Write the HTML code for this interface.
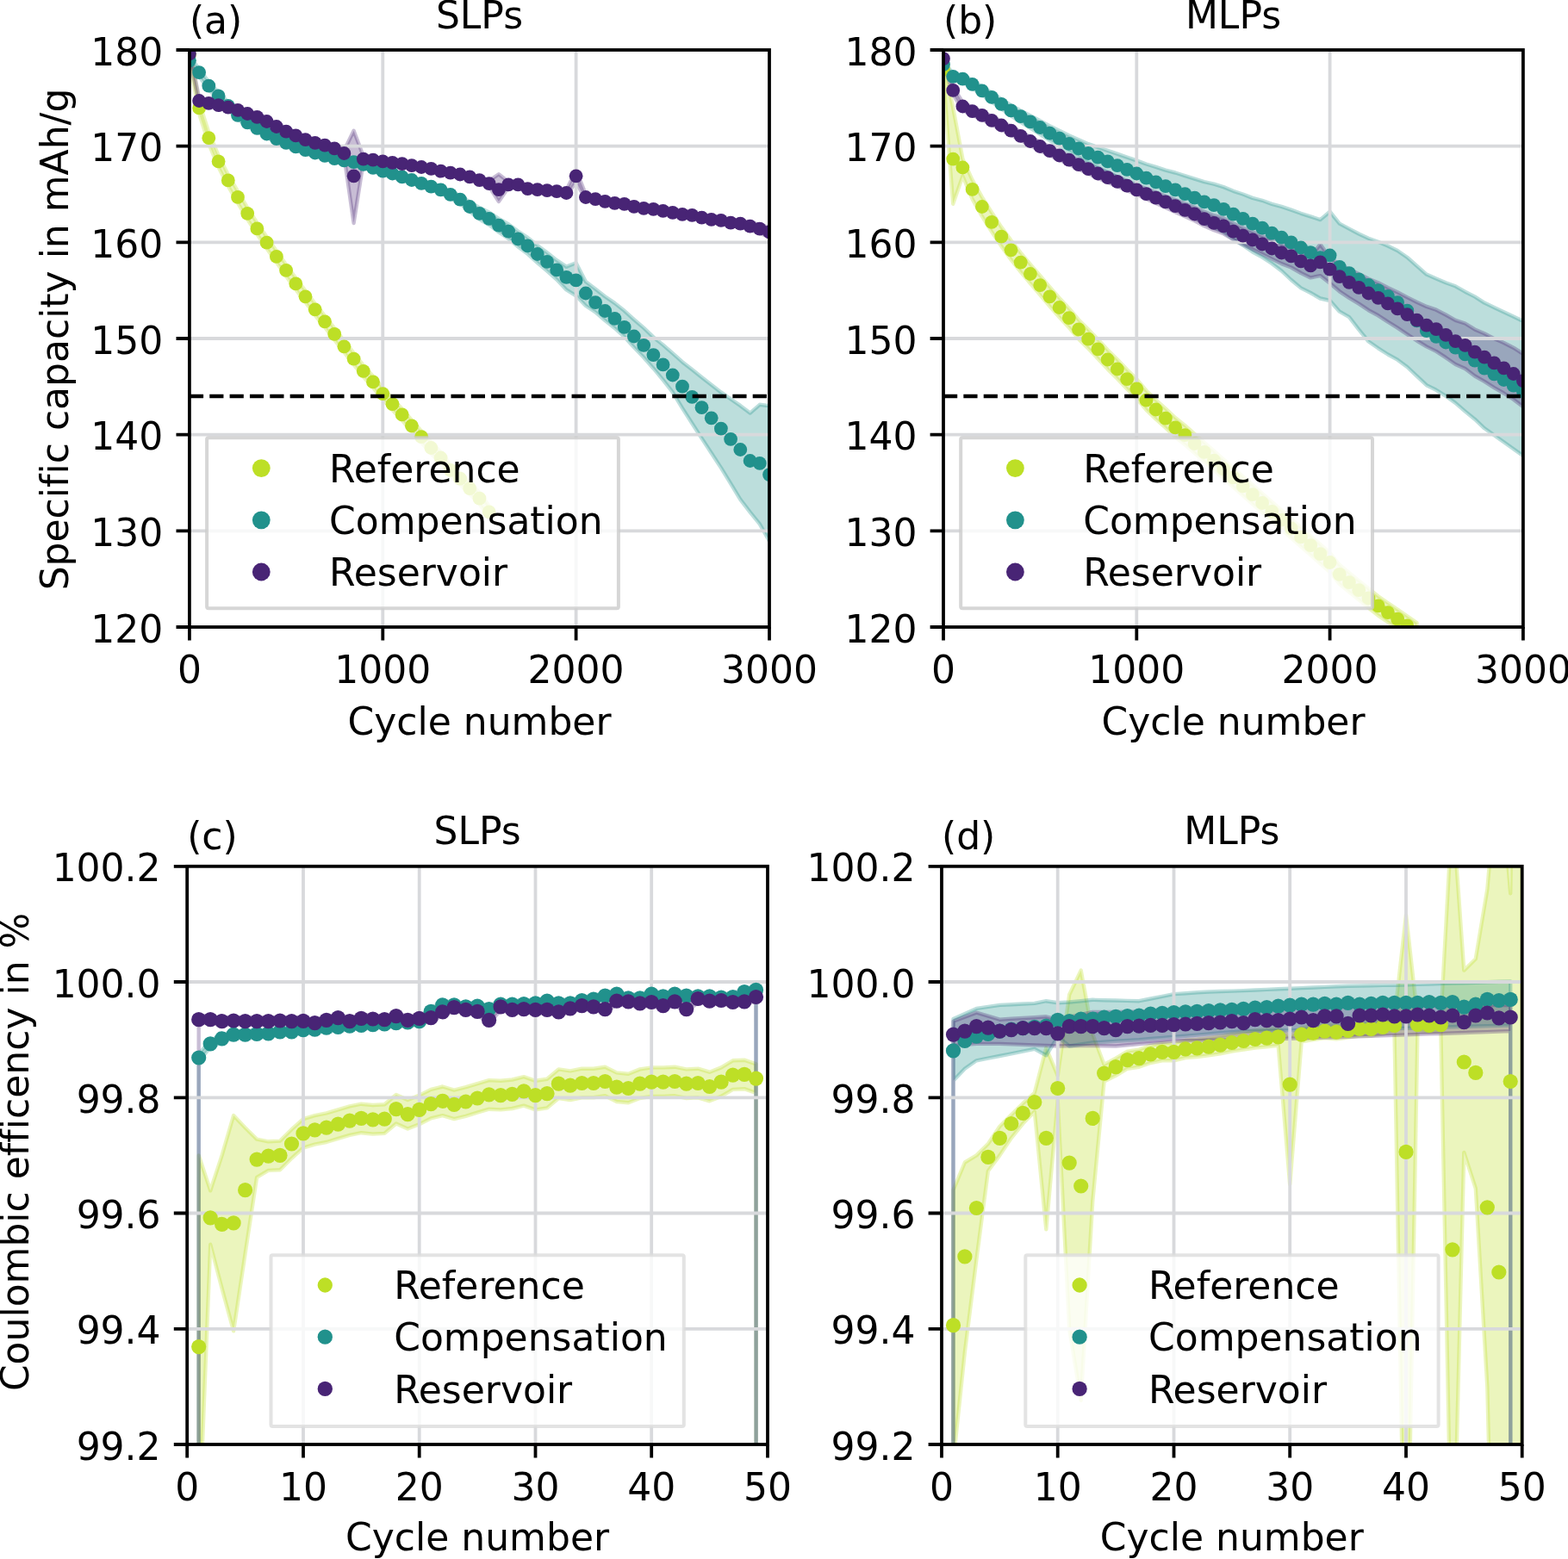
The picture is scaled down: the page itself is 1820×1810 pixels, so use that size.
<!DOCTYPE html><html><head><meta charset="utf-8"><title>Capacity and Coulombic efficiency</title><style>html,body{margin:0;padding:0;background:#fff;}svg{display:block;font-variant-ligatures:none;font-feature-settings:"liga" 0;}</style></head><body>
<svg xmlns="http://www.w3.org/2000/svg" width="1820" height="1810" viewBox="0 0 1820 1810" font-family="DejaVu Sans, Liberation Sans, sans-serif" font-size="44" fill="#000">
<rect width="1820" height="1810" fill="#fff"/>
<defs>
<clipPath id="clipa"><rect x="219.9" y="58.0" width="673.1" height="670.0"/></clipPath>
<clipPath id="clipb"><rect x="1095.0" y="58.0" width="672.9" height="670.0"/></clipPath>
<clipPath id="clipc"><rect x="217.2" y="1005.8" width="673.8" height="671.2"/></clipPath>
<clipPath id="clipd"><rect x="1093.0" y="1005.8" width="673.7" height="671.2"/></clipPath>
</defs>
<g clip-path="url(#clipa)">
<path d="M219.9,56.9 L231.1,118.7 L242.3,153.5 L253.6,180.7 L264.8,202.7 L276.0,222.2 L287.2,241.1 L298.4,258.7 L309.6,275.0 L320.9,291.2 L332.1,307.2 L343.3,322.7 L354.5,337.6 L365.7,352.6 L377.0,366.6 L388.2,381.2 L399.4,395.6 L410.6,409.9 L421.8,424.2 L433.0,436.7 L444.3,450.4 L455.5,462.5 L466.7,474.7 L477.9,487.6 L489.1,500.4 L500.4,513.3 L511.6,524.8 L522.8,539.1 L534.0,549.0 L545.2,560.4 L556.5,571.9 L567.7,587.6 L567.7,601.0 L556.5,585.3 L545.2,573.8 L534.0,562.4 L522.8,552.5 L511.6,538.2 L500.4,526.7 L489.1,513.8 L477.9,501.0 L466.7,488.1 L455.5,475.9 L444.3,463.8 L433.0,450.1 L421.8,437.6 L410.6,423.3 L399.4,409.0 L388.2,394.6 L377.0,380.0 L365.7,366.0 L354.5,351.0 L343.3,336.1 L332.1,320.6 L320.9,304.6 L309.6,288.4 L298.4,272.1 L287.2,254.5 L276.0,235.6 L264.8,216.1 L253.6,194.1 L242.3,166.9 L231.1,132.1 L219.9,70.3 Z" fill="#bddf26" fill-opacity="0.3" stroke="#bddf26" stroke-opacity="0.3" stroke-width="4.4" stroke-linejoin="round"/>
<path d="M219.9,65.8 L231.1,79.7 L242.3,95.3 L253.6,107.0 L264.8,118.5 L276.0,129.7 L287.2,138.1 L298.4,144.7 L309.6,151.4 L320.9,157.0 L332.1,161.7 L343.3,166.5 L354.5,170.3 L365.7,173.6 L377.0,177.0 L388.2,180.4 L399.4,182.6 L410.6,184.4 L421.8,187.2 L433.0,191.3 L444.3,195.1 L455.5,197.9 L466.7,201.9 L477.9,205.5 L489.1,209.3 L500.4,213.2 L511.6,216.9 L522.8,222.0 L534.0,227.2 L545.2,234.4 L556.5,241.1 L567.7,246.5 L578.9,253.8 L590.1,260.2 L601.3,268.5 L612.5,275.9 L623.8,284.9 L635.0,293.3 L646.2,302.2 L657.4,309.6 L668.6,305.3 L679.9,327.1 L691.1,335.5 L702.3,344.2 L713.5,351.9 L724.7,360.8 L735.9,371.0 L747.2,380.7 L758.4,391.4 L769.6,400.4 L780.8,410.2 L792.0,420.2 L803.3,429.1 L814.5,438.0 L825.7,446.7 L836.9,455.4 L848.1,463.2 L859.3,470.9 L870.6,479.6 L881.8,469.8 L893.0,471.3 L893.0,628.2 L881.8,608.4 L870.6,594.6 L859.3,579.8 L848.1,561.4 L836.9,543.1 L825.7,526.0 L814.5,508.9 L803.3,491.5 L792.0,473.9 L780.8,455.3 L769.6,441.1 L758.4,427.7 L747.2,415.0 L735.9,403.2 L724.7,391.0 L713.5,380.9 L702.3,372.1 L691.1,362.3 L679.9,355.0 L668.6,343.3 L657.4,336.4 L646.2,324.5 L635.0,314.5 L623.8,305.0 L612.5,294.8 L601.3,286.4 L590.1,277.0 L578.9,269.4 L567.7,261.0 L556.5,254.5 L545.2,245.6 L534.0,236.1 L522.8,229.9 L511.6,223.6 L500.4,220.0 L489.1,216.2 L477.9,212.5 L466.7,208.9 L455.5,205.1 L444.3,202.3 L433.0,198.6 L421.8,194.6 L410.6,191.8 L399.4,190.2 L388.2,188.0 L377.0,184.7 L365.7,181.4 L354.5,178.2 L343.3,174.4 L332.1,169.8 L320.9,165.1 L309.6,159.6 L298.4,153.1 L287.2,146.5 L276.0,138.2 L264.8,127.1 L253.6,115.7 L242.3,104.0 L231.1,88.6 L219.9,74.8 Z" fill="#21918c" fill-opacity="0.3" stroke="#21918c" stroke-opacity="0.3" stroke-width="4.4" stroke-linejoin="round"/>
<path d="M219.9,58.0 L231.1,113.6 L242.3,116.5 L253.6,118.9 L264.8,121.2 L276.0,124.6 L287.2,128.7 L298.4,132.5 L309.6,137.6 L320.9,143.6 L332.1,149.3 L343.3,154.0 L354.5,158.7 L365.7,162.4 L377.0,165.2 L388.2,169.0 L399.4,174.7 L410.6,151.8 L421.8,181.3 L433.0,182.3 L444.3,184.1 L455.5,185.4 L466.7,186.9 L477.9,188.8 L489.1,190.7 L500.4,192.6 L511.6,195.3 L522.8,197.2 L534.0,199.1 L545.2,201.9 L556.5,205.8 L567.7,209.9 L578.9,202.3 L590.1,211.0 L601.3,211.0 L612.5,215.8 L623.8,216.8 L635.0,217.8 L646.2,218.8 L657.4,220.7 L668.6,197.6 L679.9,225.6 L691.1,227.7 L702.3,230.5 L713.5,232.5 L724.7,233.5 L735.9,236.6 L747.2,238.6 L758.4,239.5 L769.6,241.5 L780.8,243.5 L792.0,245.5 L803.3,246.5 L814.5,249.4 L825.7,251.4 L836.9,252.4 L848.1,255.3 L859.3,255.8 L870.6,258.1 L881.8,260.6 L893.0,263.9 L893.0,275.1 L881.8,270.6 L870.6,267.0 L859.3,263.6 L848.1,262.0 L836.9,259.1 L825.7,258.1 L814.5,256.1 L803.3,253.2 L792.0,252.2 L780.8,250.2 L769.6,248.2 L758.4,246.2 L747.2,245.3 L735.9,243.3 L724.7,240.2 L713.5,239.2 L702.3,237.2 L691.1,234.4 L679.9,232.3 L668.6,211.0 L657.4,227.4 L646.2,225.5 L635.0,224.5 L623.8,223.5 L612.5,222.5 L601.3,217.7 L590.1,217.7 L578.9,234.0 L567.7,216.6 L556.5,212.5 L545.2,208.6 L534.0,205.8 L522.8,203.9 L511.6,202.1 L500.4,199.3 L489.1,197.4 L477.9,195.5 L466.7,193.6 L455.5,192.1 L444.3,190.8 L433.0,189.0 L421.8,188.0 L410.6,259.0 L399.4,181.4 L388.2,175.7 L377.0,171.9 L365.7,169.1 L354.5,165.4 L343.3,160.7 L332.1,156.0 L320.9,150.3 L309.6,144.3 L298.4,139.2 L287.2,135.4 L276.0,131.3 L264.8,127.9 L253.6,125.6 L242.3,123.2 L231.1,120.3 L219.9,66.9 Z" fill="#482475" fill-opacity="0.3" stroke="#482475" stroke-opacity="0.3" stroke-width="4.4" stroke-linejoin="round"/>
<path d="M444.3,58.0V728.0M668.6,58.0V728.0M219.9,616.3H893.0M219.9,504.7H893.0M219.9,393.0H893.0M219.9,281.3H893.0M219.9,169.7H893.0" stroke="#d8d9dc" stroke-width="3.8" fill="none"/>
<g fill="#bddf26"><circle cx="219.9" cy="63.6" r="7.9"/><circle cx="231.1" cy="125.4" r="7.9"/><circle cx="242.3" cy="160.2" r="7.9"/><circle cx="253.6" cy="187.4" r="7.9"/><circle cx="264.8" cy="209.4" r="7.9"/><circle cx="276.0" cy="228.9" r="7.9"/><circle cx="287.2" cy="247.8" r="7.9"/><circle cx="298.4" cy="265.4" r="7.9"/><circle cx="309.6" cy="281.7" r="7.9"/><circle cx="320.9" cy="297.9" r="7.9"/><circle cx="332.1" cy="313.9" r="7.9"/><circle cx="343.3" cy="329.4" r="7.9"/><circle cx="354.5" cy="344.3" r="7.9"/><circle cx="365.7" cy="359.3" r="7.9"/><circle cx="377.0" cy="373.3" r="7.9"/><circle cx="388.2" cy="387.9" r="7.9"/><circle cx="399.4" cy="402.3" r="7.9"/><circle cx="410.6" cy="416.6" r="7.9"/><circle cx="421.8" cy="430.9" r="7.9"/><circle cx="433.0" cy="443.4" r="7.9"/><circle cx="444.3" cy="457.1" r="7.9"/><circle cx="455.5" cy="469.2" r="7.9"/><circle cx="466.7" cy="481.4" r="7.9"/><circle cx="477.9" cy="494.3" r="7.9"/><circle cx="489.1" cy="507.1" r="7.9"/><circle cx="500.4" cy="520.0" r="7.9"/><circle cx="511.6" cy="531.5" r="7.9"/><circle cx="522.8" cy="545.8" r="7.9"/><circle cx="534.0" cy="555.7" r="7.9"/><circle cx="545.2" cy="567.1" r="7.9"/><circle cx="556.5" cy="578.6" r="7.9"/><circle cx="567.7" cy="594.3" r="7.9"/></g>
<g fill="#21918c"><circle cx="219.9" cy="70.3" r="7.9"/><circle cx="231.1" cy="84.1" r="7.9"/><circle cx="242.3" cy="99.7" r="7.9"/><circle cx="253.6" cy="111.4" r="7.9"/><circle cx="264.8" cy="122.8" r="7.9"/><circle cx="276.0" cy="133.9" r="7.9"/><circle cx="287.2" cy="142.3" r="7.9"/><circle cx="298.4" cy="148.9" r="7.9"/><circle cx="309.6" cy="155.5" r="7.9"/><circle cx="320.9" cy="161.1" r="7.9"/><circle cx="332.1" cy="165.8" r="7.9"/><circle cx="343.3" cy="170.4" r="7.9"/><circle cx="354.5" cy="174.2" r="7.9"/><circle cx="365.7" cy="177.5" r="7.9"/><circle cx="377.0" cy="180.8" r="7.9"/><circle cx="388.2" cy="184.2" r="7.9"/><circle cx="399.4" cy="186.4" r="7.9"/><circle cx="410.6" cy="188.1" r="7.9"/><circle cx="421.8" cy="190.9" r="7.9"/><circle cx="433.0" cy="194.9" r="7.9"/><circle cx="444.3" cy="198.7" r="7.9"/><circle cx="455.5" cy="201.5" r="7.9"/><circle cx="466.7" cy="205.4" r="7.9"/><circle cx="477.9" cy="209.0" r="7.9"/><circle cx="489.1" cy="212.8" r="7.9"/><circle cx="500.4" cy="216.6" r="7.9"/><circle cx="511.6" cy="220.3" r="7.9"/><circle cx="522.8" cy="225.9" r="7.9"/><circle cx="534.0" cy="231.6" r="7.9"/><circle cx="545.2" cy="240.0" r="7.9"/><circle cx="556.5" cy="247.8" r="7.9"/><circle cx="567.7" cy="253.8" r="7.9"/><circle cx="578.9" cy="261.6" r="7.9"/><circle cx="590.1" cy="268.6" r="7.9"/><circle cx="601.3" cy="277.4" r="7.9"/><circle cx="612.5" cy="285.4" r="7.9"/><circle cx="623.8" cy="295.0" r="7.9"/><circle cx="635.0" cy="303.9" r="7.9"/><circle cx="646.2" cy="313.4" r="7.9"/><circle cx="657.4" cy="321.9" r="7.9"/><circle cx="668.6" cy="325.4" r="7.9"/><circle cx="679.9" cy="340.5" r="7.9"/><circle cx="691.1" cy="351.1" r="7.9"/><circle cx="702.3" cy="361.0" r="7.9"/><circle cx="713.5" cy="369.8" r="7.9"/><circle cx="724.7" cy="379.8" r="7.9"/><circle cx="735.9" cy="390.5" r="7.9"/><circle cx="747.2" cy="400.8" r="7.9"/><circle cx="758.4" cy="412.1" r="7.9"/><circle cx="769.6" cy="423.4" r="7.9"/><circle cx="780.8" cy="435.5" r="7.9"/><circle cx="792.0" cy="448.7" r="7.9"/><circle cx="803.3" cy="460.9" r="7.9"/><circle cx="814.5" cy="473.2" r="7.9"/><circle cx="825.7" cy="485.3" r="7.9"/><circle cx="836.9" cy="497.6" r="7.9"/><circle cx="848.1" cy="509.8" r="7.9"/><circle cx="859.3" cy="522.0" r="7.9"/><circle cx="870.6" cy="535.0" r="7.9"/><circle cx="881.8" cy="537.9" r="7.9"/><circle cx="893.0" cy="551.1" r="7.9"/></g>
<g fill="#482475"><circle cx="219.9" cy="62.5" r="7.9"/><circle cx="231.1" cy="117.0" r="7.9"/><circle cx="242.3" cy="119.9" r="7.9"/><circle cx="253.6" cy="122.2" r="7.9"/><circle cx="264.8" cy="124.6" r="7.9"/><circle cx="276.0" cy="127.9" r="7.9"/><circle cx="287.2" cy="132.0" r="7.9"/><circle cx="298.4" cy="135.8" r="7.9"/><circle cx="309.6" cy="141.0" r="7.9"/><circle cx="320.9" cy="147.0" r="7.9"/><circle cx="332.1" cy="152.7" r="7.9"/><circle cx="343.3" cy="157.4" r="7.9"/><circle cx="354.5" cy="162.1" r="7.9"/><circle cx="365.7" cy="165.8" r="7.9"/><circle cx="377.0" cy="168.6" r="7.9"/><circle cx="388.2" cy="172.3" r="7.9"/><circle cx="399.4" cy="178.0" r="7.9"/><circle cx="410.6" cy="204.3" r="7.9"/><circle cx="421.8" cy="184.6" r="7.9"/><circle cx="433.0" cy="185.6" r="7.9"/><circle cx="444.3" cy="187.4" r="7.9"/><circle cx="455.5" cy="188.8" r="7.9"/><circle cx="466.7" cy="190.2" r="7.9"/><circle cx="477.9" cy="192.1" r="7.9"/><circle cx="489.1" cy="194.0" r="7.9"/><circle cx="500.4" cy="195.9" r="7.9"/><circle cx="511.6" cy="198.7" r="7.9"/><circle cx="522.8" cy="200.6" r="7.9"/><circle cx="534.0" cy="202.5" r="7.9"/><circle cx="545.2" cy="205.3" r="7.9"/><circle cx="556.5" cy="209.2" r="7.9"/><circle cx="567.7" cy="213.2" r="7.9"/><circle cx="578.9" cy="220.1" r="7.9"/><circle cx="590.1" cy="214.3" r="7.9"/><circle cx="601.3" cy="214.3" r="7.9"/><circle cx="612.5" cy="219.1" r="7.9"/><circle cx="623.8" cy="220.1" r="7.9"/><circle cx="635.0" cy="221.1" r="7.9"/><circle cx="646.2" cy="222.1" r="7.9"/><circle cx="657.4" cy="224.0" r="7.9"/><circle cx="668.6" cy="204.3" r="7.9"/><circle cx="679.9" cy="229.0" r="7.9"/><circle cx="691.1" cy="231.1" r="7.9"/><circle cx="702.3" cy="233.9" r="7.9"/><circle cx="713.5" cy="235.9" r="7.9"/><circle cx="724.7" cy="236.9" r="7.9"/><circle cx="735.9" cy="239.9" r="7.9"/><circle cx="747.2" cy="241.9" r="7.9"/><circle cx="758.4" cy="242.8" r="7.9"/><circle cx="769.6" cy="244.8" r="7.9"/><circle cx="780.8" cy="246.8" r="7.9"/><circle cx="792.0" cy="248.8" r="7.9"/><circle cx="803.3" cy="249.8" r="7.9"/><circle cx="814.5" cy="252.7" r="7.9"/><circle cx="825.7" cy="254.8" r="7.9"/><circle cx="836.9" cy="255.8" r="7.9"/><circle cx="848.1" cy="258.7" r="7.9"/><circle cx="859.3" cy="259.7" r="7.9"/><circle cx="870.6" cy="262.6" r="7.9"/><circle cx="881.8" cy="265.6" r="7.9"/><circle cx="893.0" cy="269.5" r="7.9"/></g>
<path d="M219.9,460.0H893.0" stroke="#000" stroke-width="4.4" stroke-dasharray="16.2,7.15" fill="none"/>
</g>
<rect x="219.9" y="58.0" width="673.1" height="670.0" fill="none" stroke="#000" stroke-width="3.8" stroke-linejoin="miter"/>
<path d="M219.9,728.0v15.4M444.3,728.0v15.4M668.6,728.0v15.4M893.0,728.0v15.4M219.9,728.0h-15.4M219.9,616.3h-15.4M219.9,504.7h-15.4M219.9,393.0h-15.4M219.9,281.3h-15.4M219.9,169.7h-15.4M219.9,58.0h-15.4" stroke="#000" stroke-width="3.8" fill="none"/>
<text x="219.9" y="792.8" text-anchor="middle">0</text>
<text x="444.3" y="792.8" text-anchor="middle">1000</text>
<text x="668.6" y="792.8" text-anchor="middle">2000</text>
<text x="893.0" y="792.8" text-anchor="middle">3000</text>
<text x="189.3" y="745.5" text-anchor="end">120</text>
<text x="189.3" y="633.8" text-anchor="end">130</text>
<text x="189.3" y="522.2" text-anchor="end">140</text>
<text x="189.3" y="410.5" text-anchor="end">150</text>
<text x="189.3" y="298.8" text-anchor="end">160</text>
<text x="189.3" y="187.2" text-anchor="end">170</text>
<text x="189.3" y="75.5" text-anchor="end">180</text>
<g clip-path="url(#clipb)">
<path d="M1095.0,71.4 L1106.2,125.0 L1117.4,184.4 L1128.6,208.8 L1139.9,228.9 L1151.1,246.7 L1162.3,263.6 L1173.5,279.1 L1184.7,293.4 L1195.9,306.8 L1207.2,320.0 L1218.4,333.1 L1229.6,345.9 L1240.8,357.9 L1252.0,371.2 L1263.2,382.4 L1274.4,394.1 L1285.7,406.3 L1296.9,417.3 L1308.1,429.1 L1319.3,440.1 L1330.5,453.5 L1341.7,464.4 L1352.9,474.4 L1364.2,485.1 L1375.4,493.9 L1386.6,503.8 L1397.8,513.7 L1409.0,523.5 L1420.2,533.4 L1431.5,543.2 L1442.7,553.1 L1453.9,562.9 L1465.1,572.8 L1476.3,582.7 L1487.5,592.5 L1498.7,602.4 L1510.0,612.2 L1521.2,622.1 L1532.4,631.9 L1543.6,641.8 L1554.8,655.8 L1566.0,664.9 L1577.2,674.1 L1588.5,683.3 L1599.7,692.3 L1610.9,700.0 L1622.1,707.6 L1633.3,715.2 L1644.5,723.0 L1644.5,745.3 L1633.3,737.5 L1622.1,729.9 L1610.9,722.3 L1599.7,714.6 L1588.5,705.7 L1577.2,696.4 L1566.0,687.2 L1554.8,678.1 L1543.6,664.1 L1532.4,654.3 L1521.2,644.4 L1510.0,634.6 L1498.7,624.7 L1487.5,614.8 L1476.3,605.0 L1465.1,595.1 L1453.9,585.3 L1442.7,575.4 L1431.5,565.6 L1420.2,555.7 L1409.0,545.8 L1397.8,536.0 L1386.6,526.1 L1375.4,516.3 L1364.2,507.5 L1352.9,496.7 L1341.7,486.7 L1330.5,475.9 L1319.3,462.5 L1308.1,451.4 L1296.9,439.7 L1285.7,428.6 L1274.4,416.4 L1263.2,404.7 L1252.0,393.6 L1240.8,380.3 L1229.6,368.2 L1218.4,355.5 L1207.2,342.3 L1195.9,329.1 L1184.7,315.7 L1173.5,301.4 L1162.3,285.9 L1151.1,269.1 L1139.9,251.2 L1128.6,231.1 L1117.4,204.5 L1106.2,236.7 L1095.0,89.3 Z" fill="#bddf26" fill-opacity="0.3" stroke="#bddf26" stroke-opacity="0.3" stroke-width="4.4" stroke-linejoin="round"/>
<path d="M1095.0,71.4 L1106.2,85.1 L1117.4,87.5 L1128.6,93.3 L1139.9,100.5 L1151.1,107.7 L1162.3,115.2 L1173.5,122.2 L1184.7,128.4 L1195.9,134.2 L1207.2,140.2 L1218.4,146.2 L1229.6,151.7 L1240.8,157.3 L1252.0,162.3 L1263.2,167.2 L1274.4,171.0 L1285.7,174.9 L1296.9,178.7 L1308.1,182.6 L1319.3,186.4 L1330.5,190.5 L1341.7,193.9 L1352.9,197.6 L1364.2,200.5 L1375.4,204.1 L1386.6,207.6 L1397.8,211.1 L1409.0,213.7 L1420.2,217.1 L1431.5,221.8 L1442.7,225.5 L1453.9,229.9 L1465.1,232.8 L1476.3,236.9 L1487.5,239.9 L1498.7,243.7 L1510.0,247.8 L1521.2,251.3 L1532.4,255.1 L1543.6,245.7 L1554.8,259.6 L1566.0,265.6 L1577.2,271.5 L1588.5,276.7 L1599.7,280.8 L1610.9,285.5 L1622.1,291.0 L1633.3,298.7 L1644.5,308.7 L1655.8,318.6 L1667.0,323.4 L1678.2,328.2 L1689.4,332.3 L1700.6,338.7 L1711.8,344.4 L1723.0,351.6 L1734.3,356.9 L1745.5,362.3 L1756.7,367.6 L1767.9,372.9 L1767.9,529.2 L1756.7,521.3 L1745.5,513.3 L1734.3,505.3 L1723.0,497.3 L1711.8,486.7 L1700.6,477.6 L1689.4,467.9 L1678.2,459.8 L1667.0,452.8 L1655.8,447.2 L1644.5,436.6 L1633.3,426.0 L1622.1,417.7 L1610.9,411.5 L1599.7,404.3 L1588.5,396.5 L1577.2,382.7 L1566.0,368.1 L1554.8,361.7 L1543.6,349.0 L1532.4,346.5 L1521.2,340.0 L1510.0,334.4 L1498.7,325.0 L1487.5,314.5 L1476.3,305.9 L1465.1,298.7 L1453.9,292.5 L1442.7,284.8 L1431.5,277.6 L1420.2,269.6 L1409.0,263.7 L1397.8,258.6 L1386.6,252.6 L1375.4,246.6 L1364.2,240.5 L1352.9,235.2 L1341.7,229.0 L1330.5,223.1 L1319.3,216.6 L1308.1,211.0 L1296.9,205.5 L1285.7,200.0 L1274.4,194.5 L1263.2,188.9 L1252.0,182.4 L1240.8,176.3 L1229.6,169.6 L1218.4,163.0 L1207.2,155.8 L1195.9,148.7 L1184.7,141.8 L1173.5,134.5 L1162.3,126.3 L1151.1,118.2 L1139.9,110.2 L1128.6,102.2 L1117.4,95.7 L1106.2,92.5 L1095.0,78.1 Z" fill="#21918c" fill-opacity="0.3" stroke="#21918c" stroke-opacity="0.3" stroke-width="4.4" stroke-linejoin="round"/>
<path d="M1095.0,63.6 L1106.2,100.4 L1117.4,119.0 L1128.6,124.5 L1139.9,129.2 L1151.1,135.1 L1162.3,140.7 L1173.5,146.8 L1184.7,153.0 L1195.9,159.0 L1207.2,165.0 L1218.4,170.2 L1229.6,175.4 L1240.8,180.4 L1252.0,186.0 L1263.2,190.9 L1274.4,196.1 L1285.7,200.8 L1296.9,205.4 L1308.1,210.0 L1319.3,214.7 L1330.5,219.1 L1341.7,223.4 L1352.9,227.7 L1364.2,232.1 L1375.4,236.4 L1386.6,240.7 L1397.8,245.9 L1409.0,250.2 L1420.2,253.4 L1431.5,259.5 L1442.7,264.4 L1453.9,269.2 L1465.1,274.0 L1476.3,278.9 L1487.5,283.8 L1498.7,287.6 L1510.0,293.5 L1521.2,298.3 L1532.4,283.6 L1543.6,299.2 L1554.8,307.0 L1566.0,312.8 L1577.2,317.9 L1588.5,323.8 L1599.7,328.2 L1610.9,334.0 L1622.1,339.2 L1633.3,345.1 L1644.5,350.7 L1655.8,355.9 L1667.0,359.7 L1678.2,365.5 L1689.4,371.8 L1700.6,375.5 L1711.8,382.4 L1723.0,387.3 L1734.3,393.1 L1745.5,398.0 L1756.7,403.7 L1767.9,410.9 L1767.9,472.3 L1756.7,463.7 L1745.5,456.5 L1734.3,450.1 L1723.0,442.9 L1711.8,436.5 L1700.6,428.1 L1689.4,423.0 L1678.2,415.2 L1667.0,407.9 L1655.8,402.4 L1644.5,395.5 L1633.3,388.2 L1622.1,380.6 L1610.9,373.7 L1599.7,366.3 L1588.5,360.2 L1577.2,352.6 L1566.0,345.8 L1554.8,338.3 L1543.6,328.8 L1532.4,320.1 L1521.2,322.4 L1510.0,317.0 L1498.7,310.5 L1487.5,306.1 L1476.3,300.6 L1465.1,294.9 L1453.9,289.4 L1442.7,283.8 L1431.5,278.2 L1420.2,271.3 L1409.0,267.3 L1397.8,262.3 L1386.6,256.3 L1375.4,251.3 L1364.2,246.2 L1352.9,241.1 L1341.7,236.1 L1330.5,231.0 L1319.3,225.8 L1308.1,221.1 L1296.9,216.3 L1285.7,211.6 L1274.4,206.9 L1263.2,201.5 L1252.0,196.5 L1240.8,190.8 L1229.6,185.6 L1218.4,180.3 L1207.2,175.0 L1195.9,168.9 L1184.7,162.9 L1173.5,156.5 L1162.3,150.3 L1151.1,144.6 L1139.9,138.6 L1128.6,133.8 L1117.4,128.1 L1106.2,109.4 L1095.0,72.5 Z" fill="#482475" fill-opacity="0.3" stroke="#482475" stroke-opacity="0.3" stroke-width="4.4" stroke-linejoin="round"/>
<path d="M1319.3,58.0V728.0M1543.6,58.0V728.0M1095.0,616.3H1767.9M1095.0,504.7H1767.9M1095.0,393.0H1767.9M1095.0,281.3H1767.9M1095.0,169.7H1767.9" stroke="#d8d9dc" stroke-width="3.8" fill="none"/>
<g fill="#bddf26"><circle cx="1095.0" cy="80.3" r="7.9"/><circle cx="1106.2" cy="184.6" r="7.9"/><circle cx="1117.4" cy="194.5" r="7.9"/><circle cx="1128.6" cy="219.9" r="7.9"/><circle cx="1139.9" cy="240.0" r="7.9"/><circle cx="1151.1" cy="257.9" r="7.9"/><circle cx="1162.3" cy="274.7" r="7.9"/><circle cx="1173.5" cy="290.3" r="7.9"/><circle cx="1184.7" cy="304.6" r="7.9"/><circle cx="1195.9" cy="318.0" r="7.9"/><circle cx="1207.2" cy="331.1" r="7.9"/><circle cx="1218.4" cy="344.3" r="7.9"/><circle cx="1229.6" cy="357.0" r="7.9"/><circle cx="1240.8" cy="369.1" r="7.9"/><circle cx="1252.0" cy="382.4" r="7.9"/><circle cx="1263.2" cy="393.6" r="7.9"/><circle cx="1274.4" cy="405.3" r="7.9"/><circle cx="1285.7" cy="417.5" r="7.9"/><circle cx="1296.9" cy="428.5" r="7.9"/><circle cx="1308.1" cy="440.2" r="7.9"/><circle cx="1319.3" cy="451.3" r="7.9"/><circle cx="1330.5" cy="464.7" r="7.9"/><circle cx="1341.7" cy="475.5" r="7.9"/><circle cx="1352.9" cy="485.6" r="7.9"/><circle cx="1364.2" cy="496.3" r="7.9"/><circle cx="1375.4" cy="505.1" r="7.9"/><circle cx="1386.6" cy="515.0" r="7.9"/><circle cx="1397.8" cy="524.8" r="7.9"/><circle cx="1409.0" cy="534.7" r="7.9"/><circle cx="1420.2" cy="544.5" r="7.9"/><circle cx="1431.5" cy="554.4" r="7.9"/><circle cx="1442.7" cy="564.3" r="7.9"/><circle cx="1453.9" cy="574.1" r="7.9"/><circle cx="1465.1" cy="584.0" r="7.9"/><circle cx="1476.3" cy="593.8" r="7.9"/><circle cx="1487.5" cy="603.7" r="7.9"/><circle cx="1498.7" cy="613.5" r="7.9"/><circle cx="1510.0" cy="623.4" r="7.9"/><circle cx="1521.2" cy="633.2" r="7.9"/><circle cx="1532.4" cy="643.1" r="7.9"/><circle cx="1543.6" cy="653.0" r="7.9"/><circle cx="1554.8" cy="666.9" r="7.9"/><circle cx="1566.0" cy="676.1" r="7.9"/><circle cx="1577.2" cy="685.2" r="7.9"/><circle cx="1588.5" cy="694.5" r="7.9"/><circle cx="1599.7" cy="703.4" r="7.9"/><circle cx="1610.9" cy="711.1" r="7.9"/><circle cx="1622.1" cy="718.7" r="7.9"/><circle cx="1633.3" cy="726.3" r="7.9"/><circle cx="1644.5" cy="734.1" r="7.9"/></g>
<g fill="#21918c"><circle cx="1095.0" cy="74.8" r="7.9"/><circle cx="1106.2" cy="88.8" r="7.9"/><circle cx="1117.4" cy="91.6" r="7.9"/><circle cx="1128.6" cy="97.8" r="7.9"/><circle cx="1139.9" cy="105.3" r="7.9"/><circle cx="1151.1" cy="112.9" r="7.9"/><circle cx="1162.3" cy="120.8" r="7.9"/><circle cx="1173.5" cy="128.4" r="7.9"/><circle cx="1184.7" cy="135.1" r="7.9"/><circle cx="1195.9" cy="141.4" r="7.9"/><circle cx="1207.2" cy="148.0" r="7.9"/><circle cx="1218.4" cy="154.6" r="7.9"/><circle cx="1229.6" cy="160.6" r="7.9"/><circle cx="1240.8" cy="166.8" r="7.9"/><circle cx="1252.0" cy="172.3" r="7.9"/><circle cx="1263.2" cy="178.0" r="7.9"/><circle cx="1274.4" cy="182.7" r="7.9"/><circle cx="1285.7" cy="187.4" r="7.9"/><circle cx="1296.9" cy="192.1" r="7.9"/><circle cx="1308.1" cy="196.8" r="7.9"/><circle cx="1319.3" cy="201.5" r="7.9"/><circle cx="1330.5" cy="206.7" r="7.9"/><circle cx="1341.7" cy="211.3" r="7.9"/><circle cx="1352.9" cy="216.2" r="7.9"/><circle cx="1364.2" cy="220.3" r="7.9"/><circle cx="1375.4" cy="225.1" r="7.9"/><circle cx="1386.6" cy="229.7" r="7.9"/><circle cx="1397.8" cy="234.4" r="7.9"/><circle cx="1409.0" cy="238.2" r="7.9"/><circle cx="1420.2" cy="242.8" r="7.9"/><circle cx="1431.5" cy="248.7" r="7.9"/><circle cx="1442.7" cy="253.8" r="7.9"/><circle cx="1453.9" cy="259.7" r="7.9"/><circle cx="1465.1" cy="264.6" r="7.9"/><circle cx="1476.3" cy="270.6" r="7.9"/><circle cx="1487.5" cy="275.6" r="7.9"/><circle cx="1498.7" cy="281.4" r="7.9"/><circle cx="1510.0" cy="287.5" r="7.9"/><circle cx="1521.2" cy="293.1" r="7.9"/><circle cx="1532.4" cy="299.2" r="7.9"/><circle cx="1543.6" cy="296.5" r="7.9"/><circle cx="1554.8" cy="309.9" r="7.9"/><circle cx="1566.0" cy="317.1" r="7.9"/><circle cx="1577.2" cy="324.3" r="7.9"/><circle cx="1588.5" cy="331.0" r="7.9"/><circle cx="1599.7" cy="337.2" r="7.9"/><circle cx="1610.9" cy="343.9" r="7.9"/><circle cx="1622.1" cy="351.1" r="7.9"/><circle cx="1633.3" cy="360.6" r="7.9"/><circle cx="1644.5" cy="372.3" r="7.9"/><circle cx="1655.8" cy="384.1" r="7.9"/><circle cx="1667.0" cy="390.8" r="7.9"/><circle cx="1678.2" cy="397.5" r="7.9"/><circle cx="1689.4" cy="403.6" r="7.9"/><circle cx="1700.6" cy="411.4" r="7.9"/><circle cx="1711.8" cy="418.7" r="7.9"/><circle cx="1723.0" cy="427.6" r="7.9"/><circle cx="1734.3" cy="434.3" r="7.9"/><circle cx="1745.5" cy="441.0" r="7.9"/><circle cx="1756.7" cy="447.7" r="7.9"/><circle cx="1767.9" cy="454.4" r="7.9"/></g>
<g fill="#482475"><circle cx="1095.0" cy="68.1" r="7.9"/><circle cx="1106.2" cy="104.9" r="7.9"/><circle cx="1117.4" cy="123.5" r="7.9"/><circle cx="1128.6" cy="129.1" r="7.9"/><circle cx="1139.9" cy="133.9" r="7.9"/><circle cx="1151.1" cy="139.9" r="7.9"/><circle cx="1162.3" cy="145.5" r="7.9"/><circle cx="1173.5" cy="151.7" r="7.9"/><circle cx="1184.7" cy="157.9" r="7.9"/><circle cx="1195.9" cy="164.0" r="7.9"/><circle cx="1207.2" cy="170.0" r="7.9"/><circle cx="1218.4" cy="175.2" r="7.9"/><circle cx="1229.6" cy="180.5" r="7.9"/><circle cx="1240.8" cy="185.6" r="7.9"/><circle cx="1252.0" cy="191.2" r="7.9"/><circle cx="1263.2" cy="196.2" r="7.9"/><circle cx="1274.4" cy="201.5" r="7.9"/><circle cx="1285.7" cy="206.2" r="7.9"/><circle cx="1296.9" cy="210.9" r="7.9"/><circle cx="1308.1" cy="215.6" r="7.9"/><circle cx="1319.3" cy="220.3" r="7.9"/><circle cx="1330.5" cy="225.1" r="7.9"/><circle cx="1341.7" cy="229.7" r="7.9"/><circle cx="1352.9" cy="234.4" r="7.9"/><circle cx="1364.2" cy="239.1" r="7.9"/><circle cx="1375.4" cy="243.8" r="7.9"/><circle cx="1386.6" cy="248.5" r="7.9"/><circle cx="1397.8" cy="254.1" r="7.9"/><circle cx="1409.0" cy="258.8" r="7.9"/><circle cx="1420.2" cy="262.4" r="7.9"/><circle cx="1431.5" cy="268.6" r="7.9"/><circle cx="1442.7" cy="273.6" r="7.9"/><circle cx="1453.9" cy="278.5" r="7.9"/><circle cx="1465.1" cy="283.5" r="7.9"/><circle cx="1476.3" cy="288.5" r="7.9"/><circle cx="1487.5" cy="293.5" r="7.9"/><circle cx="1498.7" cy="297.4" r="7.9"/><circle cx="1510.0" cy="303.4" r="7.9"/><circle cx="1521.2" cy="308.4" r="7.9"/><circle cx="1532.4" cy="304.4" r="7.9"/><circle cx="1543.6" cy="312.6" r="7.9"/><circle cx="1554.8" cy="321.2" r="7.9"/><circle cx="1566.0" cy="327.9" r="7.9"/><circle cx="1577.2" cy="333.8" r="7.9"/><circle cx="1588.5" cy="340.5" r="7.9"/><circle cx="1599.7" cy="345.8" r="7.9"/><circle cx="1610.9" cy="352.4" r="7.9"/><circle cx="1622.1" cy="358.4" r="7.9"/><circle cx="1633.3" cy="365.1" r="7.9"/><circle cx="1644.5" cy="371.6" r="7.9"/><circle cx="1655.8" cy="377.6" r="7.9"/><circle cx="1667.0" cy="382.2" r="7.9"/><circle cx="1678.2" cy="388.9" r="7.9"/><circle cx="1689.4" cy="396.1" r="7.9"/><circle cx="1700.6" cy="400.8" r="7.9"/><circle cx="1711.8" cy="408.7" r="7.9"/><circle cx="1723.0" cy="414.7" r="7.9"/><circle cx="1734.3" cy="421.4" r="7.9"/><circle cx="1745.5" cy="427.3" r="7.9"/><circle cx="1756.7" cy="434.0" r="7.9"/><circle cx="1767.9" cy="442.1" r="7.9"/></g>
<path d="M1095.0,460.0H1767.9" stroke="#000" stroke-width="4.4" stroke-dasharray="16.2,7.15" fill="none"/>
</g>
<rect x="1095.0" y="58.0" width="672.9" height="670.0" fill="none" stroke="#000" stroke-width="3.8" stroke-linejoin="miter"/>
<path d="M1095.0,728.0v15.4M1319.3,728.0v15.4M1543.6,728.0v15.4M1767.9,728.0v15.4M1095.0,728.0h-15.4M1095.0,616.3h-15.4M1095.0,504.7h-15.4M1095.0,393.0h-15.4M1095.0,281.3h-15.4M1095.0,169.7h-15.4M1095.0,58.0h-15.4" stroke="#000" stroke-width="3.8" fill="none"/>
<text x="1095.0" y="792.8" text-anchor="middle">0</text>
<text x="1319.3" y="792.8" text-anchor="middle">1000</text>
<text x="1543.6" y="792.8" text-anchor="middle">2000</text>
<text x="1767.9" y="792.8" text-anchor="middle">3000</text>
<text x="1064.4" y="745.5" text-anchor="end">120</text>
<text x="1064.4" y="633.8" text-anchor="end">130</text>
<text x="1064.4" y="522.2" text-anchor="end">140</text>
<text x="1064.4" y="410.5" text-anchor="end">150</text>
<text x="1064.4" y="298.8" text-anchor="end">160</text>
<text x="1064.4" y="187.2" text-anchor="end">170</text>
<text x="1064.4" y="75.5" text-anchor="end">180</text>
<g clip-path="url(#clipc)">
<path d="M217.2,68260.0 L230.7,1341.4 L244.2,1382.3 L257.6,1341.4 L271.1,1295.1 L284.6,1309.2 L298.1,1322.6 L311.5,1325.3 L325.0,1324.6 L338.5,1311.2 L352.0,1299.1 L365.4,1295.1 L378.9,1292.4 L392.4,1288.4 L405.9,1284.3 L419.3,1281.7 L432.8,1283.0 L446.3,1282.3 L459.8,1270.9 L473.2,1277.0 L486.7,1271.6 L500.2,1264.9 L513.7,1261.5 L527.1,1265.6 L540.6,1262.2 L554.1,1258.2 L567.6,1254.1 L581.1,1254.8 L594.5,1253.5 L608.0,1250.1 L621.5,1254.8 L635.0,1252.8 L648.4,1241.4 L661.9,1243.4 L675.4,1240.7 L688.9,1240.7 L702.3,1238.7 L715.8,1245.4 L729.3,1246.8 L742.8,1241.4 L756.2,1239.4 L769.7,1239.4 L783.2,1238.7 L796.7,1241.4 L810.1,1240.7 L823.6,1244.7 L837.1,1239.4 L850.6,1231.3 L864.0,1230.7 L877.5,1235.4 L891.0,68260.0 L891.0,68260.0 L877.5,1268.9 L864.0,1264.2 L850.6,1264.9 L837.1,1272.9 L823.6,1278.3 L810.1,1274.3 L796.7,1275.0 L783.2,1272.3 L769.7,1272.9 L756.2,1272.9 L742.8,1275.0 L729.3,1280.3 L715.8,1279.0 L702.3,1272.3 L688.9,1274.3 L675.4,1274.3 L661.9,1277.0 L648.4,1275.0 L635.0,1286.4 L621.5,1288.4 L608.0,1283.7 L594.5,1287.0 L581.1,1288.4 L567.6,1287.7 L554.1,1291.7 L540.6,1295.8 L527.1,1299.1 L513.7,1295.1 L500.2,1298.4 L486.7,1305.2 L473.2,1310.5 L459.8,1304.5 L446.3,1315.9 L432.8,1316.6 L419.3,1315.2 L405.9,1317.9 L392.4,1321.9 L378.9,1326.0 L365.4,1328.6 L352.0,1332.7 L338.5,1344.8 L325.0,1358.2 L311.5,1358.9 L298.1,1366.9 L284.6,1455.5 L271.1,1545.4 L257.6,1495.8 L244.2,1444.8 L230.7,1784.4 L217.2,68260.0 Z" fill="#bddf26" fill-opacity="0.3" stroke="#bddf26" stroke-opacity="0.3" stroke-width="4.4" stroke-linejoin="round"/>
<path d="M217.2,68260.0 L230.7,1223.9 L244.2,1207.8 L257.6,1201.8 L271.1,1197.1 L284.6,1197.1 L298.1,1196.4 L311.5,1195.7 L325.0,1193.7 L338.5,1193.7 L352.0,1191.7 L365.4,1191.1 L378.9,1189.0 L392.4,1188.4 L405.9,1187.0 L419.3,1186.4 L432.8,1185.7 L446.3,1185.0 L459.8,1183.7 L473.2,1183.0 L486.7,1181.7 L500.2,1170.2 L513.7,1162.9 L527.1,1162.9 L540.6,1164.9 L554.1,1164.2 L567.6,1167.6 L581.1,1162.2 L594.5,1162.2 L608.0,1161.5 L621.5,1160.8 L635.0,1158.2 L648.4,1160.8 L661.9,1160.8 L675.4,1157.5 L688.9,1156.1 L702.3,1152.1 L715.8,1150.1 L729.3,1154.8 L742.8,1154.8 L756.2,1150.1 L769.7,1152.8 L783.2,1150.1 L796.7,1152.1 L810.1,1152.8 L823.6,1152.8 L837.1,1154.1 L850.6,1153.5 L864.0,1147.4 L877.5,1145.4 L891.0,68260.0 L891.0,68260.0 L877.5,1153.5 L864.0,1155.5 L850.6,1161.5 L837.1,1162.2 L823.6,1160.8 L810.1,1160.8 L796.7,1160.2 L783.2,1158.2 L769.7,1160.8 L756.2,1158.2 L742.8,1162.9 L729.3,1162.9 L715.8,1158.2 L702.3,1160.2 L688.9,1164.2 L675.4,1165.5 L661.9,1168.9 L648.4,1168.9 L635.0,1166.2 L621.5,1168.9 L608.0,1169.6 L594.5,1170.2 L581.1,1170.2 L567.6,1175.6 L554.1,1172.3 L540.6,1172.9 L527.1,1170.9 L513.7,1170.9 L500.2,1178.3 L486.7,1189.7 L473.2,1191.1 L459.8,1191.7 L446.3,1193.1 L432.8,1193.7 L419.3,1194.4 L405.9,1195.1 L392.4,1196.4 L378.9,1197.1 L365.4,1199.1 L352.0,1199.8 L338.5,1201.8 L325.0,1201.8 L311.5,1203.8 L298.1,1204.5 L284.6,1205.1 L271.1,1205.1 L257.6,1209.8 L244.2,1215.9 L230.7,1232.0 L217.2,68260.0 Z" fill="#21918c" fill-opacity="0.3" stroke="#21918c" stroke-opacity="0.3" stroke-width="4.4" stroke-linejoin="round"/>
<path d="M217.2,68260.0 L230.7,1179.6 L244.2,1179.6 L257.6,1181.7 L271.1,1181.0 L284.6,1181.7 L298.1,1181.7 L311.5,1181.7 L325.0,1181.0 L338.5,1181.7 L352.0,1181.3 L365.4,1183.7 L378.9,1180.3 L392.4,1177.6 L405.9,1181.7 L419.3,1178.3 L432.8,1179.0 L446.3,1179.6 L459.8,1175.6 L473.2,1180.3 L486.7,1178.3 L500.2,1177.6 L513.7,1170.9 L527.1,1165.5 L540.6,1168.2 L554.1,1170.2 L567.6,1180.3 L581.1,1164.9 L594.5,1168.2 L608.0,1167.6 L621.5,1168.2 L635.0,1168.2 L648.4,1170.9 L661.9,1166.9 L675.4,1163.5 L688.9,1164.9 L702.3,1167.6 L715.8,1158.2 L729.3,1158.8 L742.8,1160.8 L756.2,1159.5 L769.7,1163.5 L783.2,1158.8 L796.7,1167.6 L810.1,1155.5 L823.6,1158.2 L837.1,1157.5 L850.6,1159.5 L864.0,1158.8 L877.5,1153.5 L891.0,68260.0 L891.0,68260.0 L877.5,1161.5 L864.0,1166.9 L850.6,1167.6 L837.1,1165.5 L823.6,1166.2 L810.1,1163.5 L796.7,1175.6 L783.2,1166.9 L769.7,1171.6 L756.2,1167.6 L742.8,1168.9 L729.3,1166.9 L715.8,1166.2 L702.3,1175.6 L688.9,1172.9 L675.4,1171.6 L661.9,1174.9 L648.4,1179.0 L635.0,1176.3 L621.5,1176.3 L608.0,1175.6 L594.5,1176.3 L581.1,1172.9 L567.6,1188.4 L554.1,1178.3 L540.6,1176.3 L527.1,1173.6 L513.7,1179.0 L500.2,1185.7 L486.7,1186.4 L473.2,1188.4 L459.8,1183.7 L446.3,1187.7 L432.8,1187.0 L419.3,1186.4 L405.9,1189.7 L392.4,1185.7 L378.9,1188.4 L365.4,1191.7 L352.0,1189.3 L338.5,1189.7 L325.0,1189.0 L311.5,1189.7 L298.1,1189.7 L284.6,1189.7 L271.1,1189.0 L257.6,1189.7 L244.2,1187.7 L230.7,1187.7 L217.2,68260.0 Z" fill="#482475" fill-opacity="0.3" stroke="#482475" stroke-opacity="0.3" stroke-width="4.4" stroke-linejoin="round"/>
<path d="M352.0,1005.8V1677.0M486.7,1005.8V1677.0M621.5,1005.8V1677.0M756.2,1005.8V1677.0M217.2,1542.8H891.0M217.2,1408.5H891.0M217.2,1274.3H891.0M217.2,1140.0H891.0" stroke="#d8d9dc" stroke-width="3.8" fill="none"/>
<g fill="#bddf26"><circle cx="230.7" cy="1563.6" r="8.6"/><circle cx="244.2" cy="1413.9" r="8.6"/><circle cx="257.6" cy="1421.3" r="8.6"/><circle cx="271.1" cy="1419.9" r="8.6"/><circle cx="284.6" cy="1381.7" r="8.6"/><circle cx="298.1" cy="1346.1" r="8.6"/><circle cx="311.5" cy="1342.1" r="8.6"/><circle cx="325.0" cy="1341.4" r="8.6"/><circle cx="338.5" cy="1328.0" r="8.6"/><circle cx="352.0" cy="1315.9" r="8.6"/><circle cx="365.4" cy="1311.9" r="8.6"/><circle cx="378.9" cy="1309.2" r="8.6"/><circle cx="392.4" cy="1305.2" r="8.6"/><circle cx="405.9" cy="1301.1" r="8.6"/><circle cx="419.3" cy="1298.4" r="8.6"/><circle cx="432.8" cy="1299.8" r="8.6"/><circle cx="446.3" cy="1299.1" r="8.6"/><circle cx="459.8" cy="1287.7" r="8.6"/><circle cx="473.2" cy="1293.7" r="8.6"/><circle cx="486.7" cy="1288.4" r="8.6"/><circle cx="500.2" cy="1281.7" r="8.6"/><circle cx="513.7" cy="1278.3" r="8.6"/><circle cx="527.1" cy="1282.3" r="8.6"/><circle cx="540.6" cy="1279.0" r="8.6"/><circle cx="554.1" cy="1275.0" r="8.6"/><circle cx="567.6" cy="1270.9" r="8.6"/><circle cx="581.1" cy="1271.6" r="8.6"/><circle cx="594.5" cy="1270.3" r="8.6"/><circle cx="608.0" cy="1266.9" r="8.6"/><circle cx="621.5" cy="1271.6" r="8.6"/><circle cx="635.0" cy="1269.6" r="8.6"/><circle cx="648.4" cy="1258.2" r="8.6"/><circle cx="661.9" cy="1260.2" r="8.6"/><circle cx="675.4" cy="1257.5" r="8.6"/><circle cx="688.9" cy="1257.5" r="8.6"/><circle cx="702.3" cy="1255.5" r="8.6"/><circle cx="715.8" cy="1262.2" r="8.6"/><circle cx="729.3" cy="1263.5" r="8.6"/><circle cx="742.8" cy="1258.2" r="8.6"/><circle cx="756.2" cy="1256.2" r="8.6"/><circle cx="769.7" cy="1256.2" r="8.6"/><circle cx="783.2" cy="1255.5" r="8.6"/><circle cx="796.7" cy="1258.2" r="8.6"/><circle cx="810.1" cy="1257.5" r="8.6"/><circle cx="823.6" cy="1261.5" r="8.6"/><circle cx="837.1" cy="1256.2" r="8.6"/><circle cx="850.6" cy="1248.1" r="8.6"/><circle cx="864.0" cy="1247.4" r="8.6"/><circle cx="877.5" cy="1252.1" r="8.6"/></g>
<g fill="#21918c"><circle cx="230.7" cy="1228.0" r="8.6"/><circle cx="244.2" cy="1211.9" r="8.6"/><circle cx="257.6" cy="1205.8" r="8.6"/><circle cx="271.1" cy="1201.1" r="8.6"/><circle cx="284.6" cy="1201.1" r="8.6"/><circle cx="298.1" cy="1200.4" r="8.6"/><circle cx="311.5" cy="1199.8" r="8.6"/><circle cx="325.0" cy="1197.8" r="8.6"/><circle cx="338.5" cy="1197.8" r="8.6"/><circle cx="352.0" cy="1195.7" r="8.6"/><circle cx="365.4" cy="1195.1" r="8.6"/><circle cx="378.9" cy="1193.1" r="8.6"/><circle cx="392.4" cy="1192.4" r="8.6"/><circle cx="405.9" cy="1191.1" r="8.6"/><circle cx="419.3" cy="1190.4" r="8.6"/><circle cx="432.8" cy="1189.7" r="8.6"/><circle cx="446.3" cy="1189.0" r="8.6"/><circle cx="459.8" cy="1187.7" r="8.6"/><circle cx="473.2" cy="1187.0" r="8.6"/><circle cx="486.7" cy="1185.7" r="8.6"/><circle cx="500.2" cy="1174.3" r="8.6"/><circle cx="513.7" cy="1166.9" r="8.6"/><circle cx="527.1" cy="1166.9" r="8.6"/><circle cx="540.6" cy="1168.9" r="8.6"/><circle cx="554.1" cy="1168.2" r="8.6"/><circle cx="567.6" cy="1171.6" r="8.6"/><circle cx="581.1" cy="1166.2" r="8.6"/><circle cx="594.5" cy="1166.2" r="8.6"/><circle cx="608.0" cy="1165.5" r="8.6"/><circle cx="621.5" cy="1164.9" r="8.6"/><circle cx="635.0" cy="1162.2" r="8.6"/><circle cx="648.4" cy="1164.9" r="8.6"/><circle cx="661.9" cy="1164.9" r="8.6"/><circle cx="675.4" cy="1161.5" r="8.6"/><circle cx="688.9" cy="1160.2" r="8.6"/><circle cx="702.3" cy="1156.1" r="8.6"/><circle cx="715.8" cy="1154.1" r="8.6"/><circle cx="729.3" cy="1158.8" r="8.6"/><circle cx="742.8" cy="1158.8" r="8.6"/><circle cx="756.2" cy="1154.1" r="8.6"/><circle cx="769.7" cy="1156.8" r="8.6"/><circle cx="783.2" cy="1154.1" r="8.6"/><circle cx="796.7" cy="1156.1" r="8.6"/><circle cx="810.1" cy="1156.8" r="8.6"/><circle cx="823.6" cy="1156.8" r="8.6"/><circle cx="837.1" cy="1158.2" r="8.6"/><circle cx="850.6" cy="1157.5" r="8.6"/><circle cx="864.0" cy="1151.5" r="8.6"/><circle cx="877.5" cy="1149.4" r="8.6"/></g>
<g fill="#482475"><circle cx="230.7" cy="1183.7" r="8.6"/><circle cx="244.2" cy="1183.7" r="8.6"/><circle cx="257.6" cy="1185.7" r="8.6"/><circle cx="271.1" cy="1185.0" r="8.6"/><circle cx="284.6" cy="1185.7" r="8.6"/><circle cx="298.1" cy="1185.7" r="8.6"/><circle cx="311.5" cy="1185.7" r="8.6"/><circle cx="325.0" cy="1185.0" r="8.6"/><circle cx="338.5" cy="1185.7" r="8.6"/><circle cx="352.0" cy="1185.3" r="8.6"/><circle cx="365.4" cy="1187.7" r="8.6"/><circle cx="378.9" cy="1184.3" r="8.6"/><circle cx="392.4" cy="1181.7" r="8.6"/><circle cx="405.9" cy="1185.7" r="8.6"/><circle cx="419.3" cy="1182.3" r="8.6"/><circle cx="432.8" cy="1183.0" r="8.6"/><circle cx="446.3" cy="1183.7" r="8.6"/><circle cx="459.8" cy="1179.6" r="8.6"/><circle cx="473.2" cy="1184.3" r="8.6"/><circle cx="486.7" cy="1182.3" r="8.6"/><circle cx="500.2" cy="1181.7" r="8.6"/><circle cx="513.7" cy="1174.9" r="8.6"/><circle cx="527.1" cy="1169.6" r="8.6"/><circle cx="540.6" cy="1172.3" r="8.6"/><circle cx="554.1" cy="1174.3" r="8.6"/><circle cx="567.6" cy="1184.3" r="8.6"/><circle cx="581.1" cy="1168.9" r="8.6"/><circle cx="594.5" cy="1172.3" r="8.6"/><circle cx="608.0" cy="1171.6" r="8.6"/><circle cx="621.5" cy="1172.3" r="8.6"/><circle cx="635.0" cy="1172.3" r="8.6"/><circle cx="648.4" cy="1174.9" r="8.6"/><circle cx="661.9" cy="1170.9" r="8.6"/><circle cx="675.4" cy="1167.6" r="8.6"/><circle cx="688.9" cy="1168.9" r="8.6"/><circle cx="702.3" cy="1171.6" r="8.6"/><circle cx="715.8" cy="1162.2" r="8.6"/><circle cx="729.3" cy="1162.9" r="8.6"/><circle cx="742.8" cy="1164.9" r="8.6"/><circle cx="756.2" cy="1163.5" r="8.6"/><circle cx="769.7" cy="1167.6" r="8.6"/><circle cx="783.2" cy="1162.9" r="8.6"/><circle cx="796.7" cy="1171.6" r="8.6"/><circle cx="810.1" cy="1159.5" r="8.6"/><circle cx="823.6" cy="1162.2" r="8.6"/><circle cx="837.1" cy="1161.5" r="8.6"/><circle cx="850.6" cy="1163.5" r="8.6"/><circle cx="864.0" cy="1162.9" r="8.6"/><circle cx="877.5" cy="1157.5" r="8.6"/></g>
</g>
<rect x="217.2" y="1005.8" width="673.8" height="671.2" fill="none" stroke="#000" stroke-width="3.8" stroke-linejoin="miter"/>
<path d="M217.2,1677.0v15.4M352.0,1677.0v15.4M486.7,1677.0v15.4M621.5,1677.0v15.4M756.2,1677.0v15.4M891.0,1677.0v15.4M217.2,1677.0h-15.4M217.2,1542.8h-15.4M217.2,1408.5h-15.4M217.2,1274.3h-15.4M217.2,1140.0h-15.4M217.2,1005.8h-15.4" stroke="#000" stroke-width="3.8" fill="none"/>
<text x="217.2" y="1741.8" text-anchor="middle">0</text>
<text x="352.0" y="1741.8" text-anchor="middle">10</text>
<text x="486.7" y="1741.8" text-anchor="middle">20</text>
<text x="621.5" y="1741.8" text-anchor="middle">30</text>
<text x="756.2" y="1741.8" text-anchor="middle">40</text>
<text x="891.0" y="1741.8" text-anchor="middle">50</text>
<text x="186.6" y="1694.5" text-anchor="end">99.2</text>
<text x="186.6" y="1560.3" text-anchor="end">99.4</text>
<text x="186.6" y="1426.0" text-anchor="end">99.6</text>
<text x="186.6" y="1291.8" text-anchor="end">99.8</text>
<text x="186.6" y="1157.5" text-anchor="end">100.0</text>
<text x="186.6" y="1023.3" text-anchor="end">100.2</text>
<g clip-path="url(#clipd)">
<path d="M1093.0,68260.0 L1106.5,1381.7 L1119.9,1349.5 L1133.4,1341.4 L1146.9,1328.0 L1160.4,1307.8 L1173.8,1294.4 L1187.3,1281.0 L1200.8,1268.9 L1214.3,1216.6 L1227.7,1248.8 L1241.2,1154.8 L1254.7,1126.6 L1268.2,1200.4 L1281.6,1236.0 L1295.1,1228.6 L1308.6,1220.6 L1322.1,1218.6 L1335.5,1213.9 L1349.0,1211.2 L1362.5,1211.2 L1376.0,1207.8 L1389.4,1206.8 L1402.9,1205.1 L1416.4,1203.1 L1429.8,1200.4 L1443.3,1198.4 L1456.8,1196.4 L1470.3,1195.1 L1483.7,1193.7 L1497.2,1203.8 L1510.7,1193.1 L1524.2,1191.1 L1537.6,1189.0 L1551.1,1190.1 L1564.6,1188.4 L1578.1,1186.4 L1591.5,1186.4 L1605.0,1184.3 L1618.5,1182.3 L1632.0,1062.2 L1645.4,1181.5 L1658.9,1182.3 L1672.4,1181.7 L1685.9,938.7 L1699.3,1126.6 L1712.8,1113.2 L1726.3,1032.6 L1739.8,878.3 L1753.2,1037.3 L1766.7,133.2 L1766.7,3153.6 L1753.2,1811.2 L1739.8,2146.8 L1726.3,1609.9 L1712.8,1379.7 L1699.3,1338.0 L1685.9,1878.4 L1672.4,1197.8 L1658.9,1198.4 L1645.4,1197.6 L1632.0,1945.5 L1618.5,1198.4 L1605.0,1200.4 L1591.5,1202.5 L1578.1,1202.5 L1564.6,1204.5 L1551.1,1206.2 L1537.6,1205.1 L1524.2,1207.2 L1510.7,1209.2 L1497.2,1375.0 L1483.7,1213.9 L1470.3,1215.2 L1456.8,1216.6 L1443.3,1218.6 L1429.8,1220.6 L1416.4,1223.3 L1402.9,1225.3 L1389.4,1227.0 L1376.0,1228.0 L1362.5,1231.3 L1349.0,1231.3 L1335.5,1234.0 L1322.1,1238.7 L1308.6,1240.7 L1295.1,1248.8 L1281.6,1255.5 L1268.2,1395.1 L1254.7,1626.0 L1241.2,1542.8 L1227.7,1277.6 L1214.3,1427.3 L1200.8,1290.4 L1187.3,1304.5 L1173.8,1321.3 L1160.4,1341.4 L1146.9,1359.5 L1133.4,1462.2 L1119.9,1569.6 L1106.5,1697.1 L1093.0,68260.0 Z" fill="#bddf26" fill-opacity="0.3" stroke="#bddf26" stroke-opacity="0.3" stroke-width="4.4" stroke-linejoin="round"/>
<path d="M1093.0,68260.0 L1106.5,1183.0 L1119.9,1177.0 L1133.4,1170.9 L1146.9,1168.9 L1160.4,1166.9 L1173.8,1166.2 L1187.3,1165.5 L1200.8,1164.9 L1214.3,1162.2 L1227.7,1164.2 L1241.2,1163.5 L1254.7,1162.2 L1268.2,1160.8 L1281.6,1161.2 L1295.1,1161.5 L1308.6,1161.9 L1322.1,1162.2 L1335.5,1159.5 L1349.0,1156.8 L1362.5,1154.1 L1376.0,1153.2 L1389.4,1152.3 L1402.9,1151.5 L1416.4,1151.0 L1429.8,1150.6 L1443.3,1150.1 L1456.8,1149.5 L1470.3,1148.9 L1483.7,1148.3 L1497.2,1147.7 L1510.7,1147.1 L1524.2,1146.5 L1537.6,1145.9 L1551.1,1145.3 L1564.6,1144.7 L1578.1,1144.5 L1591.5,1144.2 L1605.0,1143.9 L1618.5,1143.7 L1632.0,1143.4 L1645.4,1142.9 L1658.9,1142.5 L1672.4,1142.1 L1685.9,1141.6 L1699.3,1141.2 L1712.8,1140.7 L1726.3,1140.3 L1739.8,1139.8 L1753.2,1139.4 L1766.7,68260.0 L1766.7,68260.0 L1753.2,1190.4 L1739.8,1190.8 L1726.3,1191.1 L1712.8,1191.5 L1699.3,1191.9 L1685.9,1192.2 L1672.4,1192.6 L1658.9,1193.0 L1645.4,1193.4 L1632.0,1193.7 L1618.5,1194.0 L1605.0,1194.3 L1591.5,1194.5 L1578.1,1194.8 L1564.6,1195.1 L1551.1,1195.3 L1537.6,1195.5 L1524.2,1195.7 L1510.7,1196.0 L1497.2,1196.2 L1483.7,1196.4 L1470.3,1196.6 L1456.8,1196.9 L1443.3,1197.1 L1429.8,1198.2 L1416.4,1199.3 L1402.9,1200.4 L1389.4,1201.6 L1376.0,1202.7 L1362.5,1203.8 L1349.0,1204.9 L1335.5,1206.0 L1322.1,1207.2 L1308.6,1208.0 L1295.1,1208.8 L1281.6,1209.7 L1268.2,1210.5 L1254.7,1212.5 L1241.2,1214.5 L1227.7,1203.8 L1214.3,1225.3 L1200.8,1217.9 L1187.3,1220.6 L1173.8,1223.3 L1160.4,1226.0 L1146.9,1228.6 L1133.4,1231.3 L1119.9,1240.7 L1106.5,1254.8 L1093.0,68260.0 Z" fill="#21918c" fill-opacity="0.3" stroke="#21918c" stroke-opacity="0.3" stroke-width="4.4" stroke-linejoin="round"/>
<path d="M1093.0,68260.0 L1106.5,1185.7 L1119.9,1180.6 L1133.4,1175.6 L1146.9,1179.6 L1160.4,1183.7 L1173.8,1182.8 L1187.3,1182.0 L1200.8,1181.2 L1214.3,1180.3 L1227.7,1183.7 L1241.2,1180.8 L1254.7,1177.9 L1268.2,1174.9 L1281.6,1174.9 L1295.1,1174.9 L1308.6,1174.7 L1322.1,1174.4 L1335.5,1174.1 L1349.0,1173.9 L1362.5,1173.6 L1376.0,1173.0 L1389.4,1172.5 L1402.9,1171.9 L1416.4,1171.4 L1429.8,1170.8 L1443.3,1170.2 L1456.8,1170.0 L1470.3,1169.8 L1483.7,1169.6 L1497.2,1169.3 L1510.7,1169.1 L1524.2,1168.9 L1537.6,1168.7 L1551.1,1168.5 L1564.6,1168.2 L1578.1,1168.1 L1591.5,1168.0 L1605.0,1167.9 L1618.5,1167.8 L1632.0,1167.8 L1645.4,1167.7 L1658.9,1167.6 L1672.4,1167.5 L1685.9,1167.4 L1699.3,1167.3 L1712.8,1167.2 L1726.3,1167.1 L1739.8,1167.0 L1753.2,1166.9 L1766.7,68260.0 L1766.7,68260.0 L1753.2,1197.1 L1739.8,1197.6 L1726.3,1198.1 L1712.8,1198.5 L1699.3,1199.0 L1685.9,1199.5 L1672.4,1200.0 L1658.9,1200.4 L1645.4,1200.9 L1632.0,1201.4 L1618.5,1201.9 L1605.0,1202.4 L1591.5,1202.8 L1578.1,1203.3 L1564.6,1203.8 L1551.1,1204.2 L1537.6,1204.5 L1524.2,1204.9 L1510.7,1205.3 L1497.2,1205.7 L1483.7,1206.0 L1470.3,1206.4 L1456.8,1206.8 L1443.3,1207.2 L1429.8,1207.4 L1416.4,1207.6 L1402.9,1207.8 L1389.4,1208.1 L1376.0,1208.3 L1362.5,1208.5 L1349.0,1209.7 L1335.5,1210.9 L1322.1,1212.1 L1308.6,1213.3 L1295.1,1214.5 L1281.6,1214.2 L1268.2,1213.9 L1254.7,1214.1 L1241.2,1214.3 L1227.7,1214.5 L1214.3,1213.9 L1200.8,1213.4 L1187.3,1212.9 L1173.8,1212.4 L1160.4,1211.9 L1146.9,1211.9 L1133.4,1211.9 L1119.9,1212.9 L1106.5,1213.9 L1093.0,68260.0 Z" fill="#482475" fill-opacity="0.3" stroke="#482475" stroke-opacity="0.3" stroke-width="4.4" stroke-linejoin="round"/>
<path d="M1227.7,1005.8V1677.0M1362.5,1005.8V1677.0M1497.2,1005.8V1677.0M1632.0,1005.8V1677.0M1093.0,1542.8H1766.7M1093.0,1408.5H1766.7M1093.0,1274.3H1766.7M1093.0,1140.0H1766.7" stroke="#d8d9dc" stroke-width="3.8" fill="none"/>
<g fill="#bddf26"><circle cx="1106.5" cy="1538.7" r="8.6"/><circle cx="1119.9" cy="1458.9" r="8.6"/><circle cx="1133.4" cy="1402.5" r="8.6"/><circle cx="1146.9" cy="1343.4" r="8.6"/><circle cx="1160.4" cy="1321.3" r="8.6"/><circle cx="1173.8" cy="1304.5" r="8.6"/><circle cx="1187.3" cy="1292.4" r="8.6"/><circle cx="1200.8" cy="1279.6" r="8.6"/><circle cx="1214.3" cy="1321.3" r="8.6"/><circle cx="1227.7" cy="1263.5" r="8.6"/><circle cx="1241.2" cy="1350.1" r="8.6"/><circle cx="1254.7" cy="1377.0" r="8.6"/><circle cx="1268.2" cy="1298.4" r="8.6"/><circle cx="1281.6" cy="1246.1" r="8.6"/><circle cx="1295.1" cy="1238.7" r="8.6"/><circle cx="1308.6" cy="1230.7" r="8.6"/><circle cx="1322.1" cy="1228.6" r="8.6"/><circle cx="1335.5" cy="1223.9" r="8.6"/><circle cx="1349.0" cy="1221.3" r="8.6"/><circle cx="1362.5" cy="1221.3" r="8.6"/><circle cx="1376.0" cy="1217.9" r="8.6"/><circle cx="1389.4" cy="1216.9" r="8.6"/><circle cx="1402.9" cy="1215.2" r="8.6"/><circle cx="1416.4" cy="1213.2" r="8.6"/><circle cx="1429.8" cy="1210.5" r="8.6"/><circle cx="1443.3" cy="1208.5" r="8.6"/><circle cx="1456.8" cy="1206.5" r="8.6"/><circle cx="1470.3" cy="1205.1" r="8.6"/><circle cx="1483.7" cy="1203.8" r="8.6"/><circle cx="1497.2" cy="1259.1" r="8.6"/><circle cx="1510.7" cy="1201.1" r="8.6"/><circle cx="1524.2" cy="1199.1" r="8.6"/><circle cx="1537.6" cy="1197.1" r="8.6"/><circle cx="1551.1" cy="1198.2" r="8.6"/><circle cx="1564.6" cy="1196.4" r="8.6"/><circle cx="1578.1" cy="1194.4" r="8.6"/><circle cx="1591.5" cy="1194.4" r="8.6"/><circle cx="1605.0" cy="1192.4" r="8.6"/><circle cx="1618.5" cy="1190.4" r="8.6"/><circle cx="1632.0" cy="1337.4" r="8.6"/><circle cx="1645.4" cy="1189.5" r="8.6"/><circle cx="1658.9" cy="1190.4" r="8.6"/><circle cx="1672.4" cy="1189.7" r="8.6"/><circle cx="1685.9" cy="1450.8" r="8.6"/><circle cx="1699.3" cy="1233.0" r="8.6"/><circle cx="1712.8" cy="1245.4" r="8.6"/><circle cx="1726.3" cy="1401.8" r="8.6"/><circle cx="1739.8" cy="1477.0" r="8.6"/><circle cx="1753.2" cy="1255.5" r="8.6"/></g>
<g fill="#21918c"><circle cx="1106.5" cy="1219.9" r="8.6"/><circle cx="1119.9" cy="1208.5" r="8.6"/><circle cx="1133.4" cy="1203.1" r="8.6"/><circle cx="1146.9" cy="1200.4" r="8.6"/><circle cx="1160.4" cy="1197.1" r="8.6"/><circle cx="1173.8" cy="1195.1" r="8.6"/><circle cx="1187.3" cy="1193.7" r="8.6"/><circle cx="1200.8" cy="1192.4" r="8.6"/><circle cx="1214.3" cy="1191.1" r="8.6"/><circle cx="1227.7" cy="1184.3" r="8.6"/><circle cx="1241.2" cy="1185.7" r="8.6"/><circle cx="1254.7" cy="1183.0" r="8.6"/><circle cx="1268.2" cy="1183.0" r="8.6"/><circle cx="1281.6" cy="1181.0" r="8.6"/><circle cx="1295.1" cy="1180.3" r="8.6"/><circle cx="1308.6" cy="1179.6" r="8.6"/><circle cx="1322.1" cy="1179.0" r="8.6"/><circle cx="1335.5" cy="1177.0" r="8.6"/><circle cx="1349.0" cy="1176.3" r="8.6"/><circle cx="1362.5" cy="1175.6" r="8.6"/><circle cx="1376.0" cy="1174.9" r="8.6"/><circle cx="1389.4" cy="1174.3" r="8.6"/><circle cx="1402.9" cy="1173.6" r="8.6"/><circle cx="1416.4" cy="1172.9" r="8.6"/><circle cx="1429.8" cy="1172.3" r="8.6"/><circle cx="1443.3" cy="1171.3" r="8.6"/><circle cx="1456.8" cy="1170.2" r="8.6"/><circle cx="1470.3" cy="1169.6" r="8.6"/><circle cx="1483.7" cy="1168.2" r="8.6"/><circle cx="1497.2" cy="1167.2" r="8.6"/><circle cx="1510.7" cy="1166.2" r="8.6"/><circle cx="1524.2" cy="1166.2" r="8.6"/><circle cx="1537.6" cy="1165.3" r="8.6"/><circle cx="1551.1" cy="1166.2" r="8.6"/><circle cx="1564.6" cy="1164.3" r="8.6"/><circle cx="1578.1" cy="1166.2" r="8.6"/><circle cx="1591.5" cy="1165.3" r="8.6"/><circle cx="1605.0" cy="1164.3" r="8.6"/><circle cx="1618.5" cy="1164.3" r="8.6"/><circle cx="1632.0" cy="1164.3" r="8.6"/><circle cx="1645.4" cy="1164.3" r="8.6"/><circle cx="1658.9" cy="1163.5" r="8.6"/><circle cx="1672.4" cy="1164.3" r="8.6"/><circle cx="1685.9" cy="1163.5" r="8.6"/><circle cx="1699.3" cy="1169.2" r="8.6"/><circle cx="1712.8" cy="1166.2" r="8.6"/><circle cx="1726.3" cy="1160.4" r="8.6"/><circle cx="1739.8" cy="1161.5" r="8.6"/><circle cx="1753.2" cy="1160.4" r="8.6"/></g>
<g fill="#482475"><circle cx="1106.5" cy="1201.1" r="8.6"/><circle cx="1119.9" cy="1197.1" r="8.6"/><circle cx="1133.4" cy="1191.7" r="8.6"/><circle cx="1146.9" cy="1193.1" r="8.6"/><circle cx="1160.4" cy="1197.1" r="8.6"/><circle cx="1173.8" cy="1195.7" r="8.6"/><circle cx="1187.3" cy="1193.7" r="8.6"/><circle cx="1200.8" cy="1193.7" r="8.6"/><circle cx="1214.3" cy="1193.7" r="8.6"/><circle cx="1227.7" cy="1199.8" r="8.6"/><circle cx="1241.2" cy="1191.7" r="8.6"/><circle cx="1254.7" cy="1191.7" r="8.6"/><circle cx="1268.2" cy="1191.7" r="8.6"/><circle cx="1281.6" cy="1193.7" r="8.6"/><circle cx="1295.1" cy="1195.7" r="8.6"/><circle cx="1308.6" cy="1191.7" r="8.6"/><circle cx="1322.1" cy="1191.1" r="8.6"/><circle cx="1335.5" cy="1190.4" r="8.6"/><circle cx="1349.0" cy="1190.4" r="8.6"/><circle cx="1362.5" cy="1189.7" r="8.6"/><circle cx="1376.0" cy="1189.0" r="8.6"/><circle cx="1389.4" cy="1188.4" r="8.6"/><circle cx="1402.9" cy="1187.7" r="8.6"/><circle cx="1416.4" cy="1187.0" r="8.6"/><circle cx="1429.8" cy="1185.7" r="8.6"/><circle cx="1443.3" cy="1187.7" r="8.6"/><circle cx="1456.8" cy="1183.7" r="8.6"/><circle cx="1470.3" cy="1184.7" r="8.6"/><circle cx="1483.7" cy="1184.7" r="8.6"/><circle cx="1497.2" cy="1183.0" r="8.6"/><circle cx="1510.7" cy="1181.0" r="8.6"/><circle cx="1524.2" cy="1184.7" r="8.6"/><circle cx="1537.6" cy="1179.8" r="8.6"/><circle cx="1551.1" cy="1179.8" r="8.6"/><circle cx="1564.6" cy="1188.4" r="8.6"/><circle cx="1578.1" cy="1179.0" r="8.6"/><circle cx="1591.5" cy="1179.0" r="8.6"/><circle cx="1605.0" cy="1178.0" r="8.6"/><circle cx="1618.5" cy="1179.8" r="8.6"/><circle cx="1632.0" cy="1179.8" r="8.6"/><circle cx="1645.4" cy="1178.0" r="8.6"/><circle cx="1658.9" cy="1179.0" r="8.6"/><circle cx="1672.4" cy="1181.0" r="8.6"/><circle cx="1685.9" cy="1179.0" r="8.6"/><circle cx="1699.3" cy="1186.6" r="8.6"/><circle cx="1712.8" cy="1179.0" r="8.6"/><circle cx="1726.3" cy="1176.0" r="8.6"/><circle cx="1739.8" cy="1181.8" r="8.6"/><circle cx="1753.2" cy="1181.0" r="8.6"/></g>
</g>
<rect x="1093.0" y="1005.8" width="673.7" height="671.2" fill="none" stroke="#000" stroke-width="3.8" stroke-linejoin="miter"/>
<path d="M1093.0,1677.0v15.4M1227.7,1677.0v15.4M1362.5,1677.0v15.4M1497.2,1677.0v15.4M1632.0,1677.0v15.4M1766.7,1677.0v15.4M1093.0,1677.0h-15.4M1093.0,1542.8h-15.4M1093.0,1408.5h-15.4M1093.0,1274.3h-15.4M1093.0,1140.0h-15.4M1093.0,1005.8h-15.4" stroke="#000" stroke-width="3.8" fill="none"/>
<text x="1093.0" y="1741.8" text-anchor="middle">0</text>
<text x="1227.7" y="1741.8" text-anchor="middle">10</text>
<text x="1362.5" y="1741.8" text-anchor="middle">20</text>
<text x="1497.2" y="1741.8" text-anchor="middle">30</text>
<text x="1632.0" y="1741.8" text-anchor="middle">40</text>
<text x="1766.7" y="1741.8" text-anchor="middle">50</text>
<text x="1062.4" y="1694.5" text-anchor="end">99.2</text>
<text x="1062.4" y="1560.3" text-anchor="end">99.4</text>
<text x="1062.4" y="1426.0" text-anchor="end">99.6</text>
<text x="1062.4" y="1291.8" text-anchor="end">99.8</text>
<text x="1062.4" y="1157.5" text-anchor="end">100.0</text>
<text x="1062.4" y="1023.3" text-anchor="end">100.2</text>
<rect x="240.1" y="508.3" width="477.8" height="198.0" rx="2" ry="2" fill="#fff" fill-opacity="0.8" stroke="#ccc" stroke-opacity="0.8" stroke-width="4"/>
<circle cx="303.3" cy="543.6" r="10.4" fill="#bddf26"/>
<text x="382.1" y="560.0">Reference</text>
<circle cx="303.3" cy="603.8" r="10.4" fill="#21918c"/>
<text x="382.1" y="620.2">Compensation</text>
<circle cx="303.3" cy="664.0" r="10.4" fill="#482475"/>
<text x="382.1" y="680.4">Reservoir</text>
<rect x="1115.2" y="508.3" width="477.8" height="198.0" rx="2" ry="2" fill="#fff" fill-opacity="0.8" stroke="#ccc" stroke-opacity="0.8" stroke-width="4"/>
<circle cx="1178.4" cy="543.6" r="10.4" fill="#bddf26"/>
<text x="1257.2" y="560.0">Reference</text>
<circle cx="1178.4" cy="603.8" r="10.4" fill="#21918c"/>
<text x="1257.2" y="620.2">Compensation</text>
<circle cx="1178.4" cy="664.0" r="10.4" fill="#482475"/>
<text x="1257.2" y="680.4">Reservoir</text>
<rect x="314.5" y="1457.3" width="479.3" height="198.7" rx="2" ry="2" fill="#fff" fill-opacity="0.8" stroke="#dcdcdc" stroke-opacity="0.8" stroke-width="4"/>
<circle cx="377.3" cy="1492.0" r="8.65" fill="#bddf26"/>
<text x="457.2" y="1508.2">Reference</text>
<circle cx="377.3" cy="1552.2" r="8.65" fill="#21918c"/>
<text x="457.2" y="1568.4">Compensation</text>
<circle cx="377.3" cy="1612.4" r="8.65" fill="#482475"/>
<text x="457.2" y="1628.6">Reservoir</text>
<rect x="1190.3" y="1457.3" width="479.3" height="198.7" rx="2" ry="2" fill="#fff" fill-opacity="0.8" stroke="#dcdcdc" stroke-opacity="0.8" stroke-width="4"/>
<circle cx="1253.1" cy="1492.0" r="8.65" fill="#bddf26"/>
<text x="1333.0" y="1508.2">Reference</text>
<circle cx="1253.1" cy="1552.2" r="8.65" fill="#21918c"/>
<text x="1333.0" y="1568.4">Compensation</text>
<circle cx="1253.1" cy="1612.4" r="8.65" fill="#482475"/>
<text x="1333.0" y="1628.6">Reservoir</text>
<text x="219.9" y="39.0">(a)</text>
<text x="556.5" y="32.5" text-anchor="middle">SLPs</text>
<text x="1095.0" y="39.0">(b)</text>
<text x="1431.5" y="32.5" text-anchor="middle">MLPs</text>
<text x="217.2" y="986.1">(c)</text>
<text x="554.1" y="979.7" text-anchor="middle">SLPs</text>
<text x="1093.0" y="986.1">(d)</text>
<text x="1429.8" y="979.7" text-anchor="middle">MLPs</text>
<text x="556.5" y="852.7" text-anchor="middle">Cycle number</text>
<text x="1431.5" y="852.7" text-anchor="middle">Cycle number</text>
<text x="554.1" y="1800.3" text-anchor="middle">Cycle number</text>
<text x="1429.8" y="1800.3" text-anchor="middle">Cycle number</text>
<text transform="translate(79.0,394.0) rotate(-90)" text-anchor="middle">Specific capacity in mAh/g</text>
<text transform="translate(33.0,1337.4) rotate(-90)" text-anchor="middle">Coulombic efficency in %</text>
</svg></body></html>
